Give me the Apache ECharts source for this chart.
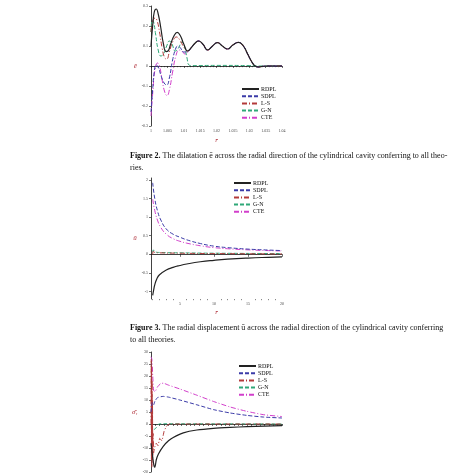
<!DOCTYPE html>
<html>
<head>
<meta charset="utf-8">
<script src="https://cdn.jsdelivr.net/npm/echarts@6/dist/echarts.min.js"></script>
<style>
  html, body { margin: 0; padding: 0; background: #fff; }
  #main { width: 474px; height: 474px; }
</style>
</head>
<body>
<div id="main"></div>
<script>
// ---- Figure 2: dilatation e vs r (1 .. 1.04) ----
var fig2Tail = [[1.0122,0.09],[1.0135,0.115],[1.0145,0.125],[1.0158,0.11],[1.0173,0.08],[1.0188,0.10],
    [1.0203,0.117],[1.0218,0.10],[1.0234,0.085],[1.0250,0.105],[1.0267,0.118],[1.0282,0.10],[1.0295,0.06],
    [1.0308,0.02],[1.0318,0.0],[1.0328,-0.005],[1.0340,-0.002],[1.0360,0],[1.0400,0]];
var fig2Rdpl = [[1.0000,0.10],[1.0005,0.20],[1.0010,0.27],[1.0016,0.285],[1.0022,0.26],[1.0030,0.19],
    [1.0038,0.11],[1.0046,0.072],[1.0052,0.075],[1.0060,0.11],[1.0070,0.15],[1.0080,0.168],[1.0090,0.15],
    [1.0100,0.11],[1.0112,0.075]];
var fig2Sdpl = [[1.0000,-0.23],[1.0005,-0.12],[1.0010,-0.03],[1.0016,0.005],[1.0022,-0.005],[1.0030,-0.045],
    [1.0040,-0.085],[1.0048,-0.095],[1.0056,-0.06],[1.0066,0.03],[1.0076,0.09],[1.0082,0.10],[1.0090,0.09],
    [1.0100,0.07],[1.0112,0.072]];
var fig2Ls = [[1.0000,0.17],[1.0005,0.22],[1.0012,0.24],[1.0018,0.23],[1.0026,0.17],[1.0034,0.09],
    [1.0042,0.04],[1.0048,0.035],[1.0056,0.07],[1.0066,0.12],[1.0078,0.145],[1.0088,0.13],[1.0100,0.095],
    [1.0112,0.075]];
var fig2Gn = [[1.0000,0.17],[1.0004,0.23],[1.0008,0.22],[1.0014,0.16],[1.0022,0.08],[1.0030,0.05],
    [1.0038,0.06],[1.0048,0.10],[1.0056,0.125],[1.0064,0.11],[1.0074,0.075],[1.0084,0.09],[1.0094,0.12],
    [1.0102,0.10],[1.0110,0.04],[1.0116,0.005],[1.0125,0.002],[1.0200,0.003],[1.0300,0.002],[1.0330,0],[1.0400,0]];
var fig2Cte = [[1.0000,-0.25],[1.0006,-0.12],[1.0012,-0.02],[1.0020,0.015],[1.0026,0.0],[1.0034,-0.07],
    [1.0042,-0.13],[1.0049,-0.148],[1.0056,-0.12],[1.0066,-0.03],[1.0076,0.05],[1.0086,0.08],[1.0094,0.075],
    [1.0104,0.06],[1.0112,0.068]];

// ---- Figure 3: radial displacement u vs r (1 .. 20) ----
var fig3Rdpl = [[1,-1.1],[1.15,-0.95],[1.3,-0.82],[1.6,-0.66],[2,-0.55],[3,-0.42],[4,-0.35],[5,-0.3],
    [6,-0.26],[8,-0.2],[10,-0.16],[12,-0.13],[15,-0.1],[18,-0.08],[20,-0.07]];
var fig3Sdpl = [[1,1.92],[1.3,1.5],[1.7,1.17],[2.2,0.92],[3,0.68],[4,0.54],[5,0.46],[6,0.39],[8,0.29],
    [10,0.22],[12,0.18],[15,0.14],[18,0.115],[20,0.1]];
var fig3Ls = [[1,0.0],[1.1,0.08],[1.3,0.05],[2,0.04],[5,0.03],[10,0.02],[20,0.01]];
var fig3Gn = [[1,0.05],[1.1,0.12],[1.3,0.07],[2,0.05],[5,0.04],[10,0.03],[20,0.02]];
var fig3Cte = [[1,1.48],[1.3,1.18],[1.7,0.92],[2.2,0.72],[3,0.54],[4,0.42],[5,0.35],[6,0.3],[8,0.23],
    [10,0.18],[12,0.15],[15,0.12],[18,0.1],[20,0.09]];
var fig3XTicks = [5, 10, 15, 20];
var fig3XMinor = [1,2,3,4,6,7,8,9,11,12,13,14,16,17,18,19];
var fig3YTicks = [-1, -0.5, 0, 0.5, 1, 1.5, 2];

// ---- Figure 4: radial stress sigma vs r ----
var fig4Rdpl = [[1.0,-8],[1.04,-14],[1.07,-17.5],[1.09,-18],[1.12,-15],[1.17,-12.5],[1.28,-9.3],[1.4,-7],
    [1.51,-5.6],[1.74,-3.7],[2.05,-2.5],[2.43,-1.8],[2.81,-1.4],[3.2,-1.1],[3.6,-0.9],[4.0,-0.7]];
var fig4Sdpl = [[1.0,5],[1.03,9],[1.06,8],[1.09,9.5],[1.15,11],[1.28,11.5],[1.4,11.2],[1.66,10],[2.05,8],
    [2.43,6],[2.81,4.6],[3.19,3.6],[3.57,2.9],[4.0,2.5]];
var fig4Ls = [[1.0,0],[1.005,27],[1.01,-15],[1.015,24],[1.02,-18],[1.025,18],[1.03,-16],[1.035,10],[1.04,-14],
    [1.05,-4],[1.06,-12],[1.08,-10],[1.12,-8],[1.16,-9],[1.2,-6],[1.25,-7],[1.3,-3],[1.36,-0.8],[1.42,0],[2,0],[4,0]];
var fig4Gn = [[1.0,0],[1.02,-1],[1.05,-2],[1.08,-2.2],[1.12,-1.5],[1.18,0],[1.3,0.1],[4,0]];
var fig4Cte = [[1.0,28],[1.02,27],[1.04,20],[1.06,14],[1.09,13.5],[1.15,15.5],[1.22,16.8],[1.28,17],[1.4,16.2],
    [1.66,14.6],[2.05,12],[2.43,9.4],[2.81,7.1],[3.19,5.3],[3.57,3.9],[4.0,3.1]];

var names = ['RDPL', 'SDPL', 'L-S', 'G-N', 'CTE'];
var colors = ['#222222', '#3b3ba8', '#b33a3a', '#2fa878', '#d23fcb'];
var dashes = ['solid', [4, 2], [5, 2, 1, 2], [4, 2], [5, 2, 1, 2]];
var widths = [1.2, 1, 1, 1, 1];

var serif = 'Liberation Serif';
var tickFont = { fontSize: 4, color: '#444', fontFamily: serif };
var axisLine = { show: true, lineStyle: { color: '#111', width: 0.8 } };
var nameFont = { fontSize: 7, color: '#b0303a', fontFamily: serif, fontStyle: 'italic' };

var chartDom = document.getElementById('main');
var myChart = echarts.init(chartDom, null, { width: 474, height: 474 });

function makeSeries(idx, data, xi, yi, smooth) {
    return {
        name: names[idx],
        type: 'line',
        xAxisIndex: xi,
        yAxisIndex: yi,
        data: data,
        symbol: 'none',
        smooth: smooth,
        clip: true,
        lineStyle: { color: colors[idx], width: widths[idx], type: dashes[idx] },
        itemStyle: { color: colors[idx] },
        z: 10 - idx
    };
}

function makeLegend(left, top) {
    return {
        left: left, top: top, orient: 'vertical',
        itemWidth: 17, itemHeight: 5, itemGap: 1.2,
        itemStyle: { opacity: 0 },
        data: names,
        textStyle: { fontSize: 6, lineHeight: 6, color: '#111', fontFamily: serif, padding: [0, 0, 0, -3] },
        padding: 0,
        selectedMode: false
    };
}

var option = {
    animation: false,
    backgroundColor: '#fff',
    legend: [makeLegend(241, 86), makeLegend(233, 180), makeLegend(238, 363)],
    grid: [
        { left: 151, top: 6, width: 131, height: 120 },
        { left: 151, top: 178, width: 131, height: 121 },
        { left: 151, top: 352, width: 131, height: 120 }
    ],
    xAxis: [
        {
            gridIndex: 0, type: 'value', min: 1, max: 1.04, interval: 0.005,
            axisLine: axisLine, splitLine: { show: false },
            axisTick: { length: 2, lineStyle: { color: '#111', width: 0.6 } },
            minorTick: { show: true, splitNumber: 5, length: 1.2, lineStyle: { color: '#111', width: 0.5 } },
            axisLabel: Object.assign({ margin: 3 }, tickFont),
            name: 'r\u0304', nameLocation: 'middle', nameGap: 11, nameTextStyle: nameFont
        },
        {
            gridIndex: 1, type: 'value', min: 0.75, max: 20,
            axisLine: axisLine, splitLine: { show: false },
            axisTick: { length: 2.5, customValues: fig3XTicks, lineStyle: { color: '#111', width: 0.6 } },
            axisLabel: Object.assign({ margin: 3, customValues: fig3XTicks }, tickFont),
            name: 'r\u0304', nameLocation: 'middle', nameGap: 10, nameTextStyle: nameFont
        },
        {
            gridIndex: 1, type: 'value', min: 0.75, max: 20, position: 'bottom',
            axisLine: { show: false }, splitLine: { show: false }, axisLabel: { show: false },
            axisTick: { length: 1.2, customValues: fig3XMinor, lineStyle: { color: '#111', width: 0.5 } }
        },
        {
            gridIndex: 2, type: 'value', min: 1, max: 4, interval: 0.1,
            axisLine: axisLine, splitLine: { show: false },
            axisTick: { length: 2, lineStyle: { color: '#111', width: 0.6 } },
            axisLabel: { show: false }
        }
    ],
    yAxis: [
        {
            gridIndex: 0, type: 'value', min: -0.3, max: 0.3, interval: 0.1,
            axisLine: axisLine, splitLine: { show: false },
            axisTick: { show: true, length: 2, lineStyle: { color: '#111', width: 0.6 } },
            axisLabel: Object.assign({ margin: 3 }, tickFont),
            name: '\u0113', nameLocation: 'middle', nameGap: 13, nameRotate: 0, nameTextStyle: nameFont
        },
        {
            gridIndex: 1, type: 'value', min: -1.2, max: 2.05,
            axisLine: axisLine, splitLine: { show: false },
            axisTick: { show: true, length: 2, customValues: fig3YTicks, lineStyle: { color: '#111', width: 0.6 } },
            axisLabel: Object.assign({ margin: 3, customValues: fig3YTicks }, tickFont),
            name: '\u016b', nameLocation: 'middle', nameGap: 13, nameRotate: 0, nameTextStyle: nameFont
        },
        {
            gridIndex: 2, type: 'value', min: -20, max: 30, interval: 5,
            axisLine: axisLine, splitLine: { show: false },
            axisTick: { show: true, length: 2, lineStyle: { color: '#111', width: 0.6 } },
            axisLabel: Object.assign({ margin: 3 }, tickFont),
            name: '\u03c3\u0304\u2081', nameLocation: 'middle', nameGap: 12, nameRotate: 0, nameTextStyle: nameFont
        }
    ],
    graphic: [
        {
            type: 'text', left: 130, top: 150,
            style: {
                text: '{b|Figure 2.} The dilatation \u0113 across the radial direction of the cylindrical cavity conferring to all theo-\nries.',
                font: '8px "Liberation Serif"', fill: '#111', lineHeight: 12,
                rich: { b: { fontWeight: 'bold', fontSize: 8, fontFamily: serif, fill: '#111' } }
            }
        },
        {
            type: 'text', left: 130, top: 322,
            style: {
                text: '{b|Figure 3.} The radial displacement \u016b across the radial direction of the cylindrical cavity conferring\nto all theories.',
                font: '8px "Liberation Serif"', fill: '#111', lineHeight: 12,
                rich: { b: { fontWeight: 'bold', fontSize: 8, fontFamily: serif, fill: '#111' } }
            }
        }
    ],
    series: [
        makeSeries(0, fig2Rdpl.concat(fig2Tail), 0, 0, true),
        makeSeries(1, fig2Sdpl.concat(fig2Tail), 0, 0, true),
        makeSeries(2, fig2Ls.concat(fig2Tail), 0, 0, true),
        makeSeries(3, fig2Gn, 0, 0, true),
        makeSeries(4, fig2Cte.concat(fig2Tail), 0, 0, true),

        makeSeries(0, fig3Rdpl, 1, 1, true),
        makeSeries(1, fig3Sdpl, 1, 1, true),
        makeSeries(2, fig3Ls, 1, 1, true),
        makeSeries(3, fig3Gn, 1, 1, true),
        makeSeries(4, fig3Cte, 1, 1, true),

        makeSeries(0, fig4Rdpl, 3, 2, 0.2),
        makeSeries(1, fig4Sdpl, 3, 2, 0.2),
        makeSeries(2, fig4Ls, 3, 2, 0.1),
        makeSeries(3, fig4Gn, 3, 2, 0.2),
        makeSeries(4, fig4Cte, 3, 2, 0.2)
    ]
};

option && myChart.setOption(option);
</script>
</body>
</html>
